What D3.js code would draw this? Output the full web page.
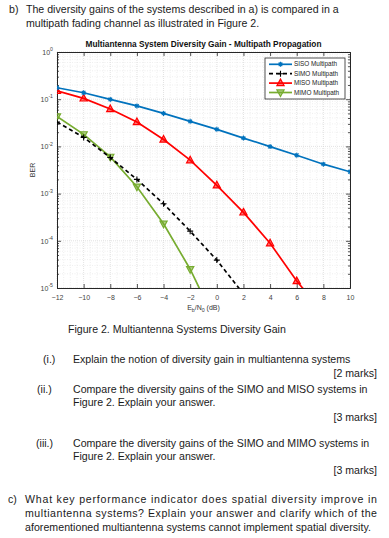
<!DOCTYPE html>
<html>
<head>
<meta charset="utf-8">
<script src="https://cdn.jsdelivr.net/npm/d3@7"></script>
<style>
  html, body { margin: 0; padding: 0; background: #fff; }
  svg { display: block; font-family: "Liberation Sans", Arial, sans-serif; }
  .txt { font-size: 10.6px; fill: #1a1a1a; }
</style>
</head>
<body>
<svg id="page" width="389" height="538"></svg>
<script>
// Eb/N0 points (dB)
const snr = [-12, -10, -8, -6, -4, -2, 0, 2, 4, 6, 8, 10];

// BER
const siso = [0.175, 0.137, 0.099, 0.072, 0.050, 0.034, 0.023, 0.015, 0.0099, 0.0065, 0.0042, 0.0029];
const simo = [0.033, 0.0155, 0.0058, 0.0020, 0.00061, 0.00016, 0.000039, 0.0000075];
const miso = [0.15, 0.104, 0.062, 0.033, 0.014, 0.0051, 0.0015, 0.0004, 0.000089, 0.000014, 0.000003];
const mimo = [0.043, 0.018, 0.006, 0.0014, 0.00023, 0.000025, 0.0000017];

const xTicks = [-12, -10, -8, -6, -4, -2, 0, 2, 4, 6, 8, 10];
const yExponents = [0, -1, -2, -3, -4, -5];
const seriesNames = ['SISO Multipath', 'SIMO Multipath', 'MISO Multipath', 'MIMO Multipath'];

const chartTitle = 'Multiantenna System Diversity Gain - Multipath Propagation';

const frame = { left: 57, right: 350, top: 52, bottom: 288 };

const svg = d3.select('#page');

// ---- question text ----
function line(x, y, str, opts = {}) {
  const t = svg.append('text').attr('class', 'txt').attr('x', x).attr('y', y).text(str);
  if (opts.anchor) t.attr('text-anchor', opts.anchor);
  if (opts.width) t.attr('textLength', opts.width).attr('lengthAdjust', 'spacing');
  return t;
}

line(9, 13, 'b)');
line(26, 13, 'The diversity gains of the systems described in a) is compared in a');
line(26, 27, 'multipath fading channel as illustrated in Figure 2.');

line(68, 333, 'Figure 2. Multiantenna Systems Diversity Gain');

line(43, 363, '(i.)');
line(73, 363, 'Explain the notion of diversity gain in multiantenna systems');
line(377, 377, '[2 marks]', { anchor: 'end' });

line(37, 393, '(ii.)');
line(73, 393, 'Compare the diversity gains of the SIMO and MISO systems in');
line(73, 406, 'Figure 2. Explain your answer.');
line(377, 421, '[3 marks]', { anchor: 'end' });

line(36, 447, '(iii.)');
line(73, 447, 'Compare the diversity gains of the SIMO and MIMO systems in');
line(73, 460, 'Figure 2. Explain your answer.');
line(377, 474, '[3 marks]', { anchor: 'end' });

line(8, 503, 'c)');
line(25, 503, 'What key performance indicator does spatial diversity improve in', { width: 352 });
line(25, 517, 'multiantenna systems? Explain your answer and clarify which of the', { width: 352 });
line(25, 531, 'aforementioned multiantenna systems cannot implement spatial diversity.', { width: 346 });

// ---- chart ----
const x = d3.scaleLinear().domain([-12, 10]).range([frame.left, frame.right]);
const y = d3.scaleLog().domain([1e-5, 1]).range([frame.bottom, frame.top]);

const plotW = frame.right - frame.left;
const plotH = frame.bottom - frame.top;

const chart = svg.append('g');

chart.append('rect')
  .attr('x', frame.left).attr('y', frame.top)
  .attr('width', plotW).attr('height', plotH)
  .attr('fill', '#fff');

// grid
const minorY = [];
yExponents.slice(0, -1).forEach((e) => {
  for (let m = 2; m <= 9; m++) minorY.push(m * Math.pow(10, e - 1));
});
const minorX = d3.range(-12, 10.01, 0.5).filter((v) => v % 2 !== 0);

const grid = chart.append('g').attr('fill', 'none');
grid.selectAll('.gmy').data(minorY).enter().append('line')
  .attr('x1', frame.left).attr('x2', frame.right)
  .attr('y1', (d) => y(d)).attr('y2', (d) => y(d))
  .attr('stroke', '#e4e4e4').attr('stroke-width', 0.6).attr('stroke-dasharray', '1,1.5');
grid.selectAll('.gmx').data(minorX).enter().append('line')
  .attr('y1', frame.top).attr('y2', frame.bottom)
  .attr('x1', (d) => x(d)).attr('x2', (d) => x(d))
  .attr('stroke', '#e4e4e4').attr('stroke-width', 0.6).attr('stroke-dasharray', '1,1.5');
grid.selectAll('.gy').data(yExponents).enter().append('line')
  .attr('x1', frame.left).attr('x2', frame.right)
  .attr('y1', (d) => y(Math.pow(10, d))).attr('y2', (d) => y(Math.pow(10, d)))
  .attr('stroke', '#d6d6d6').attr('stroke-width', 0.7).attr('stroke-dasharray', '1,1');
grid.selectAll('.gx').data(xTicks).enter().append('line')
  .attr('y1', frame.top).attr('y2', frame.bottom)
  .attr('x1', (d) => x(d)).attr('x2', (d) => x(d))
  .attr('stroke', '#d6d6d6').attr('stroke-width', 0.7).attr('stroke-dasharray', '1,1');

// axes (ticks inward, box on)
const axisColor = '#262626';
const xAxis = chart.append('g')
  .attr('transform', `translate(0,${frame.bottom})`)
  .call(d3.axisBottom(x).tickValues(xTicks).tickSizeInner(-4).tickSizeOuter(0).tickPadding(7));
const xTop = chart.append('g')
  .attr('transform', `translate(0,${frame.top})`)
  .call(d3.axisTop(x).tickValues(xTicks).tickSizeInner(-4).tickSizeOuter(0).tickFormat(''));
const yAxis = chart.append('g')
  .attr('transform', `translate(${frame.left},0)`)
  .call(d3.axisLeft(y).tickValues(yExponents.map((e) => Math.pow(10, e))).tickSizeInner(-4).tickSizeOuter(0).tickFormat(''));
const yRight = chart.append('g')
  .attr('transform', `translate(${frame.right},0)`)
  .call(d3.axisRight(y).tickValues(yExponents.map((e) => Math.pow(10, e))).tickSizeInner(-4).tickSizeOuter(0).tickFormat(''));
const yMinL = chart.append('g')
  .attr('transform', `translate(${frame.left},0)`)
  .call(d3.axisLeft(y).tickValues(minorY).tickSizeInner(-2).tickSizeOuter(0).tickFormat(''));
const yMinR = chart.append('g')
  .attr('transform', `translate(${frame.right},0)`)
  .call(d3.axisRight(y).tickValues(minorY).tickSizeInner(-2).tickSizeOuter(0).tickFormat(''));

[xAxis, xTop, yAxis, yRight, yMinL, yMinR].forEach((g) => {
  g.select('.domain').attr('stroke', axisColor).attr('stroke-width', 1);
  g.selectAll('.tick line').attr('stroke', axisColor).attr('stroke-width', 0.8);
});
xAxis.selectAll('.tick text')
  .attr('fill', '#444').attr('font-size', 7)
  .attr('font-family', '"Liberation Sans", Arial, sans-serif');

// y tick labels with superscripts
yAxis.selectAll('.tick').each(function (d) {
  const t = d3.select(this).append('text')
    .attr('x', -4).attr('dy', '0.32em')
    .attr('text-anchor', 'end')
    .attr('fill', '#444').attr('font-size', 7)
    .attr('font-family', '"Liberation Sans", Arial, sans-serif');
  t.append('tspan').text('10');
  t.append('tspan').attr('dy', -3.5).attr('font-size', 5.2).text(Math.round(Math.log10(d)));
});

// titles
chart.append('text')
  .attr('x', (frame.left + frame.right) / 2).attr('y', 47)
  .attr('text-anchor', 'middle').attr('font-size', 8.3).attr('font-weight', 'bold')
  .attr('fill', '#111').text(chartTitle);

const xl = chart.append('text')
  .attr('x', (frame.left + frame.right) / 2).attr('y', 310)
  .attr('text-anchor', 'middle').attr('font-size', 7).attr('fill', '#333');
xl.append('tspan').text('E');
xl.append('tspan').attr('dy', 2).attr('font-size', 5.2).text('b');
xl.append('tspan').attr('dy', -2).text('/N');
xl.append('tspan').attr('dy', 2).attr('font-size', 5.2).text('0');
xl.append('tspan').attr('dy', -2).text(' (dB)');

chart.append('text')
  .attr('transform', `translate(35,${(frame.top + frame.bottom) / 2}) rotate(-90)`)
  .attr('text-anchor', 'middle').attr('font-size', 7).attr('fill', '#333')
  .text('BER');

// series
const clipId = 'plotclip';
svg.append('defs').append('clipPath').attr('id', clipId)
  .append('rect').attr('x', frame.left).attr('y', frame.top)
  .attr('width', plotW).attr('height', plotH);

const markerPaths = {
  star: 'M-2.5,0H2.5M0,-2.5V2.5M-1.8,-1.8L1.8,1.8M-1.8,1.8L1.8,-1.8',
  plus: 'M-3,0H3M0,-3V3',
  up: 'M0,-4L3.6,2.6L-3.6,2.6Z',
  down: 'M0,4L3.6,-2.6L-3.6,-2.6Z',
};

const series = [
  { name: seriesNames[0], values: siso, color: '#0072BD', dash: null, marker: 'star', width: 1.7 },
  { name: seriesNames[1], values: simo, color: '#000000', dash: '4,3', marker: 'plus', width: 1.7 },
  { name: seriesNames[2], values: miso, color: '#FF0000', dash: null, marker: 'up', width: 1.7 },
  { name: seriesNames[3], values: mimo, color: '#77AC30', dash: null, marker: 'down', width: 1.7 },
];

const lineGen = d3.line().x((d) => x(d[0])).y((d) => y(d[1]));
const plot = chart.append('g').attr('clip-path', `url(#${clipId})`);

function drawMarker(g, s) {
  const p = g.append('path').attr('d', markerPaths[s.marker]).attr('stroke', s.color);
  if (s.marker === 'up' || s.marker === 'down') {
    p.attr('fill', s.color).attr('fill-opacity', 0.55).attr('stroke-width', 1.2);
  } else {
    p.attr('fill', 'none').attr('stroke-width', 1.1);
  }
}

// draw in reverse so SISO is on top like the legend order
series.slice().reverse().forEach((s) => {
  const pts = s.values.map((v, i) => [snr[i], v]);
  plot.append('path')
    .datum(pts)
    .attr('d', lineGen)
    .attr('fill', 'none')
    .attr('stroke', s.color)
    .attr('stroke-width', s.width)
    .attr('stroke-dasharray', s.dash);
  pts.filter((d) => d[1] >= 1e-5).forEach((d) => {
    const g = plot.append('g').attr('transform', `translate(${x(d[0])},${y(d[1])})`);
    drawMarker(g, s);
  });
});

// legend
const leg = { x: 265, y: 58, w: 80, h: 41 };
const legend = chart.append('g');
legend.append('rect')
  .attr('x', leg.x).attr('y', leg.y).attr('width', leg.w).attr('height', leg.h)
  .attr('fill', '#fff').attr('stroke', '#262626').attr('stroke-width', 0.8);
series.forEach((s, i) => {
  const cy = leg.y + 6.3 + i * 9.4;
  legend.append('line')
    .attr('x1', leg.x + 4).attr('x2', leg.x + 27)
    .attr('y1', cy).attr('y2', cy)
    .attr('stroke', s.color).attr('stroke-width', s.width)
    .attr('stroke-dasharray', s.dash);
  const g = legend.append('g').attr('transform', `translate(${leg.x + 15.5},${cy})`);
  drawMarker(g, s);
  legend.append('text')
    .attr('x', leg.x + 29).attr('y', cy).attr('dy', '0.34em')
    .attr('font-size', 6.4).attr('fill', '#222').text(s.name);
});
</script>
</body>
</html>
